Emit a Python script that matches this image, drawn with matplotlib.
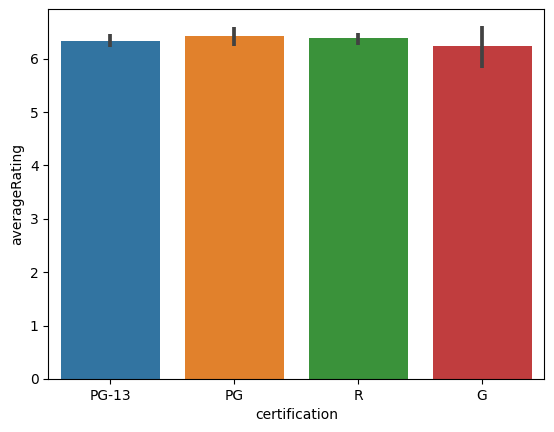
import numpy as np
import matplotlib
matplotlib.use("Agg")
import matplotlib.pyplot as plt

categories = ["PG-13", "PG", "R", "G"]
mean_rating = [6.34, 6.42, 6.38, 6.23]
ci_low = [6.22, 6.24, 6.25, 5.82]
ci_high = [6.47, 6.60, 6.49, 6.62]
colors = ["#3274a1", "#e1812c", "#3a923a", "#c03d3e"]

fig = plt.figure(figsize=(5.54, 4.32), dpi=100)
ax = fig.add_axes([0.0875, 0.1227, 0.8945, 0.8563])

x = np.arange(len(categories))
ax.bar(x, mean_rating, width=0.8, color=colors)
for xi, lo, hi in zip(x, ci_low, ci_high):
    ax.plot([xi, xi], [lo, hi], color="#424242", lw=2.7, solid_capstyle="butt")

ax.set_xticks(x)
ax.set_xticklabels(categories)
ax.set_xlim(-0.5, len(categories) - 0.5)
ax.set_ylim(0, 6.93)
ax.set_xlabel("certification")
ax.set_ylabel("averageRating")

fig.savefig("out.png", dpi=100)
